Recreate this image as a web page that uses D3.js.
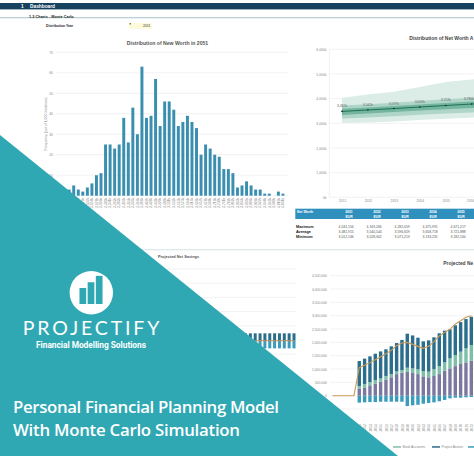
<!DOCTYPE html>
<html>
  <head>
    <meta charset="utf-8">
    <script src="https://d3js.org/d3.v7.min.js"></script>
    <title>Personal Financial Planning Model</title>
    <style>
      body { margin: 0px; background: #fff; overflow: hidden; }
      svg { display: block; font-family: "Liberation Sans", sans-serif; }
      .domain { display: none; }
      .tick line { display: none; }
      .tick text { fill: #8a8a8a; font-size: 3.4px; }
      .grid line { stroke: #ececec; stroke-width: 0.7; }
    </style>
  </head>
  <body>
    <svg width="474" height="456"></svg>
    <script>
      // histogram: 50 bins of net worth in 2051
      const binLabels = ['3,012k','3,033k','3,054k','3,074k','3,095k','3,116k','3,137k','3,158k','3,178k','3,199k',
        '3,220k','3,241k','3,262k','3,282k','3,303k','3,324k','3,345k','3,366k','3,386k','3,407k',
        '3,428k','3,449k','3,470k','3,490k','3,511k','3,532k','3,553k','3,574k','3,594k','3,615k',
        '3,636k','3,657k','3,678k','3,698k','3,719k','3,740k','3,761k','3,782k','3,802k','3,823k',
        '3,844k','3,865k','3,886k','3,906k','3,927k','3,948k','3,969k','3,990k','4,010k','4,031k'];
      const binCounts = [1, 2, 3, 5, 3, 2, 4, 6, 10, 11, 25, 25, 23, 25, 38, 26, 43, 30, 63, 38, 39, 57, 34, 46, 46, 42,
        34, 36, 39, 36, 33, 20, 25, 23, 20, 19, 13, 13, 11, 4, 5, 7, 5, 3, 3, 1, 1, 0, 2, 1];
      const binTicks = [0, 10, 20, 30, 40, 50, 60, 70];

      // fan chart, values in thousands
      const fanYears = ['2051', '2052', '2053', '2054', '2055', '2056', '2057'];
      const fanMax = [4031, 4169, 4282, 4476, 4671, 4780, 4840];
      const fanHigh = [3720, 3770, 3830, 3900, 3970, 4040, 4110];
      const fanUpper = [3590, 3640, 3700, 3760, 3820, 3880, 3940];
      const fanAvg = [3482, 3541, 3597, 3659, 3722, 3780, 3840];
      const fanLower = [3340, 3400, 3460, 3520, 3570, 3620, 3670];
      const fanLow = [3190, 3240, 3290, 3350, 3400, 3440, 3490];
      const fanMin = [3012, 3028, 3071, 3133, 3182, 3230, 3280];
      const fanTicks = [0, 1000, 2000, 3000, 4000, 5000, 6000];

      // table under the fan chart
      const tableYears = ['2051', '2052', '2053', '2054', '2055'];
      const tableRows = ['Maximum', 'Average', 'Minimum'];
      const tableMax = ['4,031,156', '4,169,266', '4,282,059', '4,475,991', '4,671,217'];
      const tableAvg = ['3,481,915', '3,540,544', '3,596,659', '3,658,718', '3,721,888'];
      const tableMin = ['3,012,146', '3,028,302', '3,071,213', '3,133,231', '3,182,100'];

      // projected net savings, only the part not covered by the banner
      const savingsIdx = ['a', 'b', 'c', 'd', 'e', 'f', 'g', 'h', 'i', 'j', 'k'];
      const savingsUp = [235, 235, 235, 235, 235, 235, 235, 235, 235, 235, 235];
      const savingsDown = [295, 295, 295, 295, 295, 295, 295, 295, 295, 295, 295];
      const savingsLine = [-25, -25, -25, -25, -25, -25, -30, -30, -25, -25, -25];
      const savingsTicks = [-500, 0, 500, 1000, 1500, 2000, 2500];

      // projected net worth, values in thousands
      const worthYears = d3.range(2046, 2073).map(String);
      const worthBarYears = worthYears.slice(5);
      const worthProperty = [275, 310, 390, 460, 525, 590, 690, 810, 860, 900, 850, 810, 725, 690, 740, 810, 940, 1025, 1110, 1190, 1250, 1310];
      const worthBank = [85, 130, 120, 130, 125, 150, 120, 100, 100, 150, 175, 180, 200, 210, 260, 300, 310, 375, 415, 460, 525, 590];
      const worthProject = [940, 950, 965, 985, 1010, 1000, 1040, 1065, 1130, 1275, 1235, 1185, 1115, 1175, 1190, 1230, 1190, 1090, 1115, 1110, 1100, 1060];
      const worthDebt = [-260, -250, -240, -240, -225, -225, -225, -225, -225, -390, -360, -340, -300, -275, -250, -210, -160, -100, -75, -75, -60, -50];
      const worthLine = [0, 0, 0, 0, 0, 1050, 1140, 1240, 1350, 1460, 1575, 1700, 1875, 1975, 2000, 1925, 1850, 1775, 1850, 2025, 2240, 2375, 2490, 2690, 2810, 2940, 3000];
      const worthTicks = [0, 500, 1000, 1500, 2000, 2500, 3000, 3500, 4000, 4500];
      const worthLegend = ['Bank Accounts', 'Project Assets'];

      const logoBars = [0.5, 0.68, 0.88];

      const teal = '#2fa8b4';
      const barBlue = '#3a8fb0';
      const darkBlue = '#2b6e8c';
      const midBlue = '#3a9bbb';
      const purple = '#7b789f';
      const green = '#7dbfa9';
      const orange = '#c99a58';

      const svg = d3.select('svg');
      const fmt = d3.format(',');

      const text = (x, y, s, size, fill, weight, anchor) => svg.append('text')
          .attr('x', x).attr('y', y).text(s)
          .style('font-size', size + 'px')
          .style('fill', fill)
          .style('font-weight', weight || 'normal')
          .style('text-anchor', anchor || 'start');

      const grid = (scale, ticks, x0, x1) => {
        svg.append('g').attr('class', 'grid').selectAll('line').data(ticks).enter().append('line')
            .attr('x1', x0).attr('x2', x1)
            .attr('y1', d => scale(d)).attr('y2', d => scale(d));
      };

      // sheet header
      svg.append('rect').attr('x', 0).attr('y', 3).attr('width', 474).attr('height', 6.4).attr('fill', '#14425f');
      svg.append('rect').attr('x', 0).attr('y', 17).attr('width', 474).attr('height', 1.3).attr('fill', '#b9d2d3');
      svg.append('rect').attr('x', 0).attr('y', 249).attr('width', 474).attr('height', 1.4).attr('fill', '#dfeaea');
      text(21, 8, '1', 4.8, '#fff', 'bold');
      text(30, 8, 'Dashboard', 4.8, '#fff', 'bold');
      text(29, 17.5, '1.3   Charts - Monte Carlo', 3.9, '#222', 'bold');
      text(46, 27, 'Distribution Year', 3.4, '#222', 'bold');
      svg.append('rect').attr('x', 129).attr('y', 23).attr('width', 23).attr('height', 5.8).attr('fill', '#fdfbd9');
      svg.append('rect').attr('x', 129.6).attr('y', 23.2).attr('width', 1.2).attr('height', 1.2).attr('fill', '#333');
      text(150.5, 27.2, '2051', 3.4, '#333', 'normal', 'end');

      // histogram
      const xBin = d3.scaleBand().domain(binLabels).range([57, 286]).padding(0.35);
      const yBin = d3.scaleLinear().domain([0, 70]).range([195.7, 52.3]);
      grid(yBin, binTicks, 56, 288);
      svg.append('g').attr('transform', 'translate(56,0)').call(d3.axisLeft(yBin).tickValues(binTicks).tickSize(0).tickPadding(3));
      svg.append('g').selectAll('rect').data(binCounts).enter().append('rect')
          .attr('x', (d, i) => xBin(binLabels[i]))
          .attr('y', d => yBin(d))
          .attr('width', xBin.bandwidth())
          .attr('height', d => yBin(0) - yBin(d))
          .attr('fill', barBlue);
      svg.append('g').attr('transform', 'translate(0,195.7)')
          .call(d3.axisBottom(xBin).tickSize(0).tickPadding(2))
          .selectAll('text')
          .attr('transform', 'rotate(-90)')
          .attr('x', -2).attr('y', -1.2)
          .style('text-anchor', 'end');
      text(167.5, 45, 'Distribution of New Worth in 2051', 5.1, '#555', 'bold', 'middle');
      text(0, 0, 'Frequency (out of 1,000 iterations)', 3.5, '#888', 'normal', 'middle')
          .attr('transform', 'translate(47,124) rotate(-90)');

      // fan chart
      const xFan = d3.scalePoint().domain(fanYears).range([342, 497.6]);
      const yFan = d3.scaleLinear().domain([0, 6000]).range([197.3, 49.3]);
      grid(yFan, fanTicks, 329, 474);
      svg.append('line').attr('x1', 329.3).attr('x2', 329.3).attr('y1', 49).attr('y2', 197).attr('stroke', '#ececec').attr('stroke-width', 0.7);
      svg.append('g').attr('transform', 'translate(329,0)')
          .call(d3.axisLeft(yFan).tickValues(fanTicks).tickSize(0).tickPadding(2.5).tickFormat(d => fmt(d) + 'k'));
      // the last visible year sits on the page edge, so it ends there instead of being cut
      svg.append('g').attr('transform', 'translate(0,197.3)')
          .call(d3.axisBottom(xFan).tickValues(fanYears.slice(0, 6)).tickSize(0).tickPadding(2.5))
          .selectAll('text')
          .filter(d => d === '2056')
          .style('text-anchor', 'end')
          .attr('dx', 2.2);
      const band = (hi, lo, fill) => svg.append('path')
          .attr('fill', fill)
          .attr('d', d3.area()
            .x((d, i) => xFan(fanYears[i]))
            .y0((d, i) => yFan(lo[i]))
            .y1((d, i) => yFan(hi[i]))(fanYears));
      band(fanMax, fanMin, '#dcece7');
      band(fanHigh, fanLow, '#aed5c8');
      band(fanUpper, fanLower, '#74b59e');
      svg.append('path').datum(fanAvg)
          .attr('fill', 'none').attr('stroke', '#1f7058').attr('stroke-width', 1)
          .attr('d', d3.line().x((d, i) => xFan(fanYears[i])).y(d => yFan(d)));
      svg.append('g').selectAll('circle').data(fanAvg).enter().append('circle')
          .attr('cx', (d, i) => xFan(fanYears[i])).attr('cy', d => yFan(d)).attr('r', 0.8).attr('fill', '#123');
      svg.append('g').selectAll('text').data(fanAvg.slice(0, 6)).enter().append('text')
          .attr('x', (d, i) => i === 5 ? xFan(fanYears[i]) + 2.2 : xFan(fanYears[i]))
          .attr('y', d => yFan(d) - 4)
          .style('font-size', '3.4px').style('fill', '#666')
          .style('text-anchor', (d, i) => i === 5 ? 'end' : 'middle')
          .text(d => fmt(d) + 'k');
      text(409.3, 40, 'Distribution of Net Worth A', 5, '#444', 'bold');

      // table
      svg.append('rect').attr('x', 295.3).attr('y', 208.7).attr('width', 179).attr('height', 10.3).attr('fill', '#2f8fbd');
      text(297, 212.8, 'Net Worth', 3.4, '#fff', 'bold');
      const colRight = d3.scalePoint().domain(tableYears).range([353.7, 465.7]);
      tableYears.forEach((y, i) => {
        text(colRight(y) - 1, 212.8, y, 3.4, '#fff', 'bold', 'end');
        text(colRight(y) - 1, 218, 'EUR', 3.4, '#fff', 'bold', 'end');
      });
      [tableMax, tableAvg, tableMin].forEach((row, r) => {
        text(296, 228 + r * 5, tableRows[r], 3.8, '#111', 'bold');
        row.forEach((v, i) => text(colRight(tableYears[i]), 228 + r * 5, v, 3.4, '#555', 'normal', 'end'));
      });

      // projected net savings
      const xSav = d3.scalePoint().domain(savingsIdx).range([245.5, 294]);
      const ySav = d3.scaleLinear().domain([0, 500]).range([340, 325.8]);
      grid(ySav, savingsTicks, 100, 296);
      svg.append('g').selectAll('rect').data(savingsUp).enter().append('rect')
          .attr('x', (d, i) => xSav(savingsIdx[i]) - 1.5).attr('y', d => ySav(d))
          .attr('width', 3).attr('height', d => ySav(0) - ySav(d)).attr('fill', darkBlue);
      svg.append('g').selectAll('rect').data(savingsDown).enter().append('rect')
          .attr('x', (d, i) => xSav(savingsIdx[i]) - 1.5).attr('y', ySav(0))
          .attr('width', 3).attr('height', d => ySav(-d) - ySav(0)).attr('fill', midBlue);
      svg.append('path').datum(savingsLine)
          .attr('fill', 'none').attr('stroke', '#c98a4e').attr('stroke-width', 1)
          .attr('d', d3.line().x((d, i) => xSav(savingsIdx[i])).y(d => ySav(d)));
      text(158, 258, 'Projected Net Savings', 3.9, '#555', 'bold');

      // projected net worth
      const xWorth = d3.scalePoint().domain(worthYears).range([332.6, 471.3]);
      const yWorth = d3.scaleLinear().domain([0, 4500]).range([395.7, 275.7]);
      grid(yWorth, worthTicks.concat([-500]), 330, 474);
      svg.append('g').attr('transform', 'translate(330,0)')
          .call(d3.axisLeft(yWorth).tickValues(worthTicks).tickSize(0).tickPadding(3).tickFormat(d => fmt(d * 1000)));
      const stacked = d3.stack().keys([0, 1, 2])(worthProperty.map((d, i) => [d, worthBank[i], worthProject[i]]));
      const stackColors = [purple, green, darkBlue];
      stacked.forEach((layer, s) => {
        svg.append('g').selectAll('rect').data(layer).enter().append('rect')
            .attr('x', (d, i) => xWorth(worthBarYears[i]) - 1.7)
            .attr('y', d => yWorth(d[1]))
            .attr('width', 3.4)
            .attr('height', d => yWorth(d[0]) - yWorth(d[1]))
            .attr('fill', stackColors[s]);
      });
      svg.append('g').selectAll('rect').data(worthDebt).enter().append('rect')
          .attr('x', (d, i) => xWorth(worthBarYears[i]) - 1.7)
          .attr('y', yWorth(0))
          .attr('width', 3.4)
          .attr('height', d => yWorth(d) - yWorth(0))
          .attr('fill', midBlue);
      svg.append('path').datum(worthLine)
          .attr('fill', 'none').attr('stroke', orange).attr('stroke-width', 1.1)
          .attr('d', d3.line().x((d, i) => xWorth(worthYears[i])).y(d => yWorth(d)));
      svg.append('g').attr('transform', 'translate(0,421)')
          .call(d3.axisBottom(xWorth).tickSize(0).tickPadding(2))
          .selectAll('text')
          .attr('transform', 'rotate(-90)')
          .attr('x', -3).attr('y', -1.2)
          .style('text-anchor', 'end');
      text(443.3, 264.5, 'Projected Ne', 4.9, '#444', 'bold');

      // legend
      svg.append('rect').attr('x', 393).attr('y', 446.2).attr('width', 8).attr('height', 1.5).attr('fill', green);
      text(402.5, 448.3, worthLegend[0], 3.4, '#888');
      svg.append('rect').attr('x', 432).attr('y', 446.2).attr('width', 8).attr('height', 1.5).attr('fill', darkBlue);
      text(441.5, 448.3, worthLegend[1], 3.4, '#888');
      svg.append('rect').attr('x', 468).attr('y', 446.2).attr('width', 6).attr('height', 1.5).attr('fill', midBlue);

      // banner
      svg.append('path').attr('fill', teal).attr('d', d3.line()([[0, 135], [398, 456], [0, 456]]));
      svg.append('circle').attr('cx', 91.3).attr('cy', 292.7).attr('r', 21.7).attr('fill', '#fff');
      const xLogo = d3.scaleBand().domain(d3.range(3)).range([78, 104]).padding(0.18);
      const yLogo = d3.scaleLinear().domain([0, 1]).range([304, 272]);
      svg.append('g').selectAll('rect').data(logoBars).enter().append('rect')
          .attr('x', (d, i) => xLogo(i)).attr('y', d => yLogo(d))
          .attr('width', xLogo.bandwidth()).attr('height', d => yLogo(0) - yLogo(d))
          .attr('fill', teal);
      text(22.7, 335, 'PROJECTIFY', 19.5, '#fff').style('font-family', 'Lato').attr('textLength', 136.6);
      text(36, 347.5, 'Financial Modelling Solutions', 8.4, '#fff', 'bold').style('font-family', 'Roboto').attr('textLength', 110);
      text(13, 412.7, 'Personal Financial Planning Model', 16.8, '#fff', '600').style('font-family', '"Open Sans"').attr('textLength', 266);
      text(13, 435.7, 'With Monte Carlo Simulation', 16.8, '#fff', '600').style('font-family', '"Open Sans"').attr('textLength', 227);
    </script>
  </body>
</html>
